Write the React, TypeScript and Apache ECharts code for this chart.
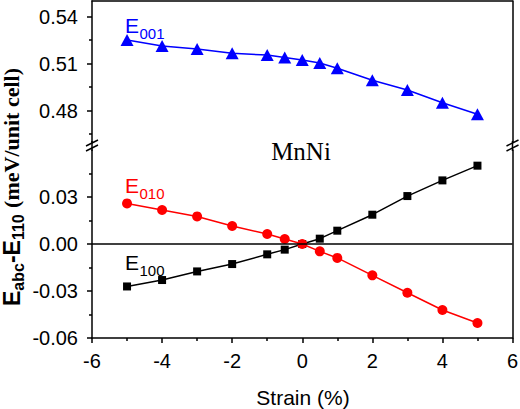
import React, { useEffect, useRef } from "react";
import * as echarts from "echarts";

const strain = [-5, -4, -3, -2, -1, -0.5, 0, 0.5, 1, 2, 3, 4, 5];
const e001 = [0.5251, 0.5213, 0.5194, 0.5166, 0.5155, 0.514, 0.5124, 0.5104, 0.5071, 0.4994, 0.4932, 0.4851, 0.4777];
const e100 = [-0.0271, -0.023, -0.0175, -0.0128, -0.0066, -0.0036, 0, 0.0034, 0.0085, 0.0187, 0.0306, 0.0406, 0.05];
const e010 = [0.0259, 0.0217, 0.0176, 0.0115, 0.0064, 0.0032, 0, -0.0047, -0.0089, -0.02, -0.0311, -0.0421, -0.0504];

const upperMajor = [0.48, 0.51, 0.54];
const upperMinor = [0.465, 0.495, 0.525];
const lowerMajor = [-0.06, -0.03, 0, 0.03];
const lowerMinor = [-0.045, -0.015, 0.015, 0.045];

const SANS = "'Liberation Sans', Arial, sans-serif";
const SERIF = "'Liberation Serif', 'Times New Roman', serif";

function measure(text: string, font: string): number {
  const c = document.createElement("canvas").getContext("2d");
  if (!c) return text.length * 10;
  c.font = font;
  return c.measureText(text).width;
}

function subLabel(x: number, y: number, main: string, sub: string, color: string, mainSize: number, subSize: number, subDy: number) {
  const mf = `normal ${mainSize}px ${SANS}`;
  const w = measure(main, mf);
  return [
    { type: "text", x, y, style: { text: main, font: mf, fill: color, align: "left", verticalAlign: "middle" } },
    { type: "text", x: x + w + 0.5, y: y + subDy, style: { text: sub, font: `normal ${subSize}px ${SANS}`, fill: color, align: "left", verticalAlign: "middle" } },
  ];
}

function yLabel() {
  const pieces = [
    { t: "E", font: `bold 23px ${SANS}`, dy: 0 },
    { t: "abc", font: `bold 16px ${SANS}`, dy: 6 },
    { t: "-", font: `bold 23px ${SANS}`, dy: 0 },
    { t: "E", font: `bold 23px ${SANS}`, dy: 0 },
    { t: "110", font: `bold 16px ${SANS}`, dy: 6 },
    { t: " ", font: `bold 23px ${SANS}`, dy: 0 },
    { t: "(meV/unit cell)", font: `bold 22px ${SERIF}`, dy: -1 },
  ];
  let cur = 0;
  const children: any[] = [];
  for (const p of pieces) {
    children.push({ type: "text", x: cur, y: p.dy, style: { text: p.t, font: p.font, fill: "#000", align: "left", verticalAlign: "middle" } });
    cur += measure(p.t, p.font);
  }
  const center = 187;
  return { type: "group", x: 12, y: center + cur / 2, rotation: Math.PI / 2, children };
}

export default function App() {
  const ref = useRef<HTMLDivElement>(null);
  useEffect(() => {
    document.body.style.margin = "0";
    if (!ref.current) return;
    const chart = echarts.init(ref.current, undefined, { renderer: "svg" });
    const zip = (ys: number[]) => strain.map((x, i) => [x, ys[i]]);
    const axisLine = { show: true, onZero: false, lineStyle: { color: "#000", width: 1.5 } };
    const labelStyle = { color: "#000", fontSize: 20, fontFamily: SANS };
    const fmt = (v: number) => v.toFixed(2);
    const left = 92;
    const right = 7.5;
    const breakLines = (x: number) => [
      { type: "line", shape: { x1: x - 6, y1: 146, x2: x + 6, y2: 140 }, style: { stroke: "#000", lineWidth: 1.5 } },
      { type: "line", shape: { x1: x - 6, y1: 151, x2: x + 6, y2: 145 }, style: { stroke: "#000", lineWidth: 1.5 } },
    ];
    const rx = 520 - right;
    chart.setOption({
      animation: false,
      backgroundColor: "#fff",
      grid: [
        { left, right, top: 1, height: 141, outerBoundsMode: "none" },
        { left, right, top: 150, height: 188, outerBoundsMode: "none" },
      ],
      xAxis: [
        { gridIndex: 0, type: "value", min: -6, max: 6, position: "top", axisLine, axisTick: { show: false }, axisLabel: { show: false }, splitLine: { show: false } },
        {
          gridIndex: 1, type: "value", min: -6, max: 6, interval: 2, position: "bottom", axisLine,
          axisTick: { show: true, inside: false, length: 5, lineStyle: { color: "#000", width: 1.5 } },
          minorTick: { show: true, splitNumber: 2, length: 3, lineStyle: { color: "#000", width: 1.5 } },
          axisLabel: { ...labelStyle, margin: 13 }, splitLine: { show: false },
        },
      ],
      yAxis: [
        {
          gridIndex: 0, type: "value", min: 0.46, max: 0.55, position: "left", axisLine,
          axisTick: { show: true, customValues: upperMajor, length: 5, lineStyle: { color: "#000", width: 1.5 } },
          axisLabel: { ...labelStyle, customValues: upperMajor, formatter: fmt, margin: 14 }, splitLine: { show: false },
        },
        {
          gridIndex: 0, type: "value", min: 0.46, max: 0.55, position: "left", axisLine: { show: false, onZero: false },
          axisTick: { show: true, customValues: upperMinor, length: 3, lineStyle: { color: "#000", width: 1.5 } },
          axisLabel: { show: false }, splitLine: { show: false },
        },
        { gridIndex: 0, type: "value", min: 0.46, max: 0.55, position: "right", axisLine, axisTick: { show: false }, axisLabel: { show: false }, splitLine: { show: false } },
        {
          gridIndex: 1, type: "value", min: -0.06, max: 0.06, position: "left", axisLine,
          axisTick: { show: true, customValues: lowerMajor, length: 5, lineStyle: { color: "#000", width: 1.5 } },
          axisLabel: { ...labelStyle, customValues: lowerMajor, formatter: fmt, margin: 14 }, splitLine: { show: false },
        },
        {
          gridIndex: 1, type: "value", min: -0.06, max: 0.06, position: "left", axisLine: { show: false, onZero: false },
          axisTick: { show: true, customValues: lowerMinor, length: 3, lineStyle: { color: "#000", width: 1.5 } },
          axisLabel: { show: false }, splitLine: { show: false },
        },
        { gridIndex: 1, type: "value", min: -0.06, max: 0.06, position: "right", axisLine, axisTick: { show: false }, axisLabel: { show: false }, splitLine: { show: false } },
      ],
      series: [
        {
          name: "E001", type: "line", xAxisIndex: 0, yAxisIndex: 0, data: zip(e001),
          symbol: "triangle", symbolSize: [13, 12], itemStyle: { color: "#0000ff" }, lineStyle: { color: "#0000ff", width: 1.5 },
        },
        {
          name: "E100", type: "line", xAxisIndex: 1, yAxisIndex: 3, data: zip(e100),
          symbol: "rect", symbolSize: 8, itemStyle: { color: "#000" }, lineStyle: { color: "#000", width: 1.5 },
          markLine: { silent: true, symbol: "none", label: { show: false }, lineStyle: { color: "#000", width: 1.5, type: "solid" }, data: [{ yAxis: 0 }] },
        },
        {
          name: "E010", type: "line", xAxisIndex: 1, yAxisIndex: 3, data: zip(e010),
          symbol: "circle", symbolSize: 10, itemStyle: { color: "#ff0000" }, lineStyle: { color: "#ff0000", width: 1.5 },
        },
      ],
      graphic: [
        { type: "line", shape: { x1: left, y1: 141, x2: left, y2: 151 }, style: { stroke: "#000", lineWidth: 1.5 } },
        { type: "line", shape: { x1: rx, y1: 141, x2: rx, y2: 151 }, style: { stroke: "#000", lineWidth: 1.5 } },
        ...breakLines(left),
        ...breakLines(rx),
        ...subLabel(125, 25, "E", "001", "#0000ff", 21, 15, 8),
        ...subLabel(125, 185, "E", "010", "#ff0000", 21, 15, 8),
        ...subLabel(125, 262.5, "E", "100", "#000", 21, 15, 8),
        { type: "text", x: 301, y: 151, style: { text: "MnNi", font: `normal 25px ${SERIF}`, fill: "#000", align: "center", verticalAlign: "middle" } },
        { type: "text", x: 303, y: 397, style: { text: "Strain (%)", font: `normal 21px ${SANS}`, fill: "#000", align: "center", verticalAlign: "middle" } },
        yLabel(),
      ],
    });
    return () => chart.dispose();
  }, []);
  return <div ref={ref} style={{ position: "absolute", left: 0, top: 0, width: 520, height: 409 }} />;
}
